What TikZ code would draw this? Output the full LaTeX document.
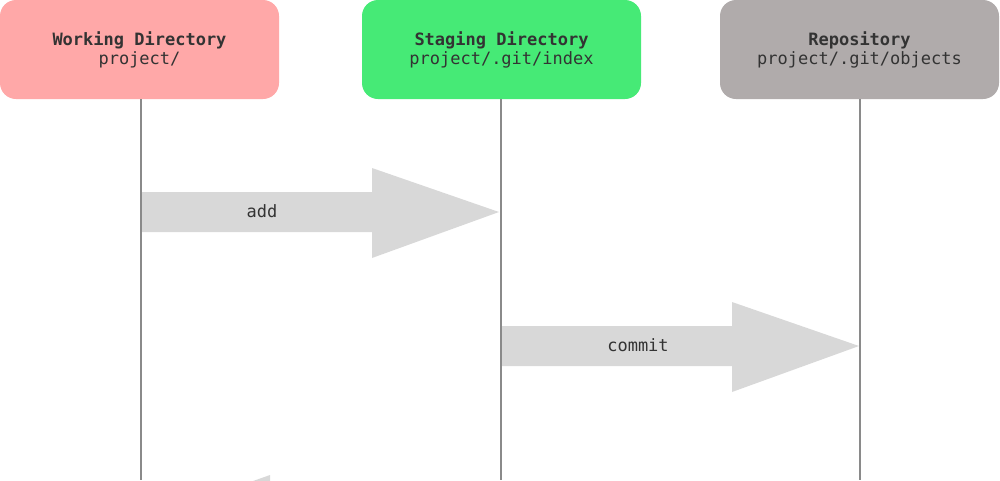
\documentclass[tikz,border=0pt]{standalone}
\usepackage{fontspec}
\setmonofont{DejaVu Sans Mono}
\definecolor{workCol}{HTML}{FFA8A8}
\definecolor{stageCol}{HTML}{46EA76}
\definecolor{repoCol}{HTML}{B0ABAB}
\definecolor{arrowCol}{HTML}{D8D8D8}
\definecolor{lineCol}{HTML}{8A8A8A}
\definecolor{textCol}{HTML}{333333}
\begin{document}
\begin{tikzpicture}[x=1pt, y=-1pt,
    boxStyle/.style={rectangle, rounded corners=16pt, minimum width=279pt, minimum height=99pt, text=textCol, align=center, font=\ttfamily\fontsize{17}{21}\selectfont, inner sep=0pt},
    lifeStyle/.style={draw=lineCol, line width=1.2pt},
    bigArrow/.style={fill=arrowCol},
    labelStyle/.style={text=textCol, font=\ttfamily\fontsize{17}{21}\selectfont}]
    \useasboundingbox (0,0) rectangle (1000,480);
    \clip (0,0) rectangle (1000,480);

    % lifelines
    \coordinate (work_B) at (141, 480);
    \coordinate (stage_B) at (501, 480);
    \coordinate (repo_B) at (860, 480);

    \node[boxStyle, fill=workCol]  (work)  at (139.5, 49.5) {\textbf{Working Directory}\\[-2pt]project/};
    \node[boxStyle, fill=stageCol] (stage) at (501.5, 49.5) {\textbf{Staging Directory}\\[-2pt]project/.git/index};
    \node[boxStyle, fill=repoCol]  (repo)  at (859.5, 49.5) {\textbf{Repository}\\[-2pt]project/.git/objects};

    \draw[lifeStyle] (141, 99) -- (work_B);
    \draw[lifeStyle] (501, 99) -- (stage_B);
    \draw[lifeStyle] (860, 99) -- (repo_B);

    % add
    \fill[bigArrow] (142, 192) -- (372, 192) -- (372, 168) -- (499, 212) -- (372, 258) -- (372, 232) -- (142, 232) -- cycle;
    \node[labelStyle] (add) at (262, 211) {add};

    % commit
    \fill[bigArrow] (502, 326) -- (732, 326) -- (732, 302) -- (859, 346) -- (732, 392) -- (732, 366) -- (502, 366) -- cycle;
    \node[labelStyle] (commit) at (638, 345) {commit};

    % next arrow (cut off)
    \fill[bigArrow] (500, 500) -- (270, 500) -- (270, 475) -- (143, 520) -- (270, 565) -- (270, 540) -- (500, 540) -- cycle;
\end{tikzpicture}
\end{document}
